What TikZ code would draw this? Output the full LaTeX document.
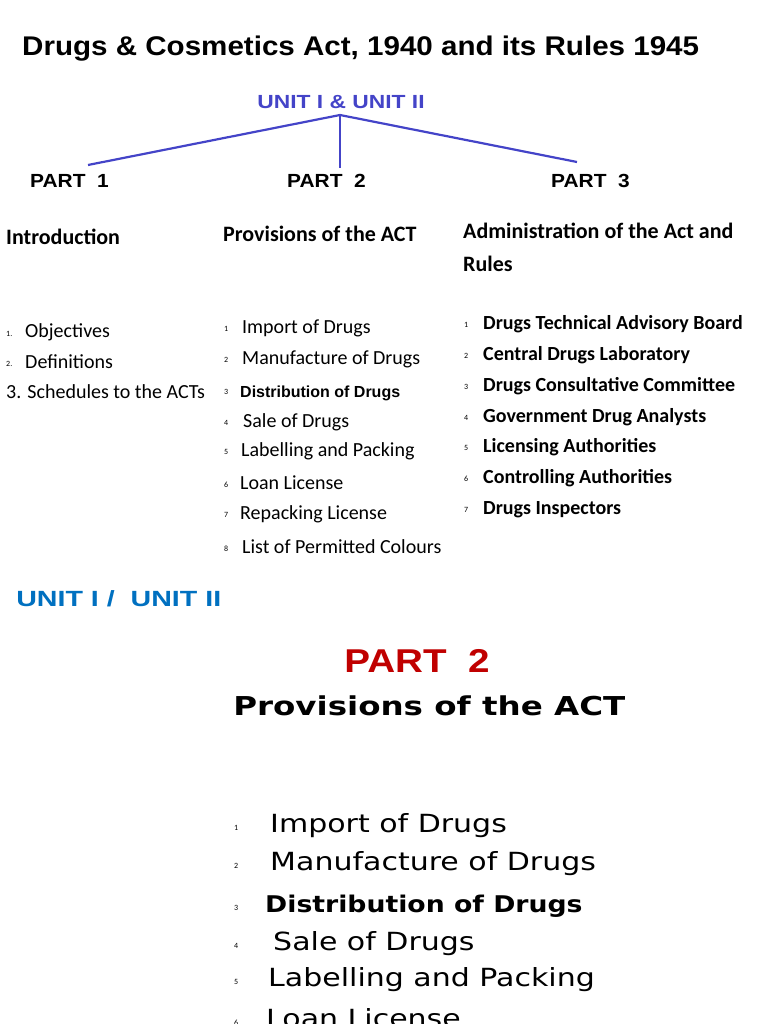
\documentclass[tikz,border=0pt]{standalone}
\usepackage{fontspec}
\setmainfont{Liberation Sans}
\newfontfamily\carl{Carlito}
\newfontfamily\dvs{DejaVu Sans}
\definecolor{ublue}{RGB}{68,68,200}
\definecolor{ub2}{RGB}{0,112,192}
\definecolor{pred}{RGB}{192,0,0}
\begin{document}
\begin{tikzpicture}[x=1pt,y=-1pt,
  hd/.style={anchor=base west,inner sep=0,font=\bfseries\fontsize{19}{22}\selectfont,xscale=1.1},
  sec/.style={anchor=base west,inner sep=0,font=\carl\bfseries\fontsize{22}{26}\selectfont,align=left},
  li/.style={anchor=base west,inner sep=0,font=\carl\fontsize{20}{24}\selectfont},
  lb/.style={anchor=base west,inner sep=0,font=\carl\bfseries\fontsize{20}{24}\selectfont},
  num/.style={anchor=base west,inner sep=0,font=\carl\fontsize{8}{10}\selectfont},
  big/.style={anchor=base west,inner sep=0,font=\dvs\fontsize{25}{30}\selectfont,xscale=1.2},
  ln/.style={draw=ublue,line width=2.2pt}]
\useasboundingbox (0,0) rectangle (768,1024);
\node[anchor=base west,inner sep=0,font=\bfseries\fontsize{27}{32}\selectfont,xscale=1.095] (title) at (22,56) {Drugs \& Cosmetics Act, 1940 and its Rules 1945};
\node[anchor=base,inner sep=0,font=\bfseries\fontsize{19}{22}\selectfont,text=ublue,xscale=1.2] (unit) at (341,109) {UNIT I \& UNIT II};
\coordinate (hub) at (340,115);
\coordinate (p1) at (88,165);
\coordinate (p2) at (340,168);
\coordinate (p3) at (577,162);
\draw[ln] (hub) -- (p1); \draw[ln] (hub) -- (p2); \draw[ln] (hub) -- (p3);
\node[hd] (h1) at (30,188) {PART\ \ 1};
\node[hd] (h2) at (287,188) {PART\ \ 2};
\node[hd] (h3) at (551,188) {PART\ \ 3};
\node[sec] (s1) at (6,244) {Introduction};
\node[sec] (s2) at (223,241) {Provisions of the ACT};
\node[sec] (s3) at (463,239) {Administration of the Act and};
\node[sec] (s3b) at (463,271) {Rules};
\node[num] at (6,336) {1.}; \node[li] (a1) at (25,337) {Objectives};
\node[num] at (6,366) {2.}; \node[li] (a2) at (25,368) {Definitions};
\node[li] (a3) at (6,398) {3. Schedules to the ACTs};
\foreach \n/\t/\y/\x in {1/Import of Drugs/333/242,2/Manufacture of Drugs/364/242,4/Sale of Drugs/427/243,5/Labelling and Packing/456/241,6/Loan License/489/240,7/Repacking License/519/240,8/List of Permitted Colours/553/242}
  {\node[num] at (224,\y-2) {\n}; \node[li] at (\x,\y) {\t};}
\node[num] at (224,394) {3}; \node[anchor=base west,inner sep=0,font=\bfseries\fontsize{16}{20}\selectfont] (b3) at (240,397) {Distribution of Drugs};
\foreach \n/\t/\y in {1/Drugs Technical Advisory Board/329,2/Central Drugs Laboratory/360,3/Drugs Consultative Committee/391,4/Government Drug Analysts/422,5/Licensing Authorities/452,6/Controlling Authorities/483,7/Drugs Inspectors/514}
  {\node[num] at (464,\y-2) {\n}; \node[lb] at (483,\y) {\t};}
\node[anchor=base west,inner sep=0,font=\bfseries\fontsize{22}{26}\selectfont,text=ub2,xscale=1.3] (u2) at (16,606) {UNIT I /\ \ UNIT II};
\node[anchor=base,inner sep=0,font=\bfseries\fontsize{33}{38}\selectfont,text=pred,xscale=1.17] (bp) at (417,672) {PART\ \ 2};
\node[anchor=base west,inner sep=0,font=\dvs\bfseries\fontsize{26}{30}\selectfont,xscale=1.25] (bprov) at (233,715) {Provisions of the ACT};
\foreach \n/\t/\y/\x in {1/Import of Drugs/832/270,2/Manufacture of Drugs/870/270,4/Sale of Drugs/950/273,5/Labelling and Packing/986/268,6/Loan License/1027/266}
  {\node[num] at (234,\y-2) {\n}; \node[big] at (\x,\y) {\t};}
\node[num] at (234,910) {3};
\node[anchor=base west,inner sep=0,font=\dvs\bfseries\fontsize{23}{28}\selectfont,xscale=1.16] (bd) at (265,912) {Distribution of Drugs};
\end{tikzpicture}
\end{document}
